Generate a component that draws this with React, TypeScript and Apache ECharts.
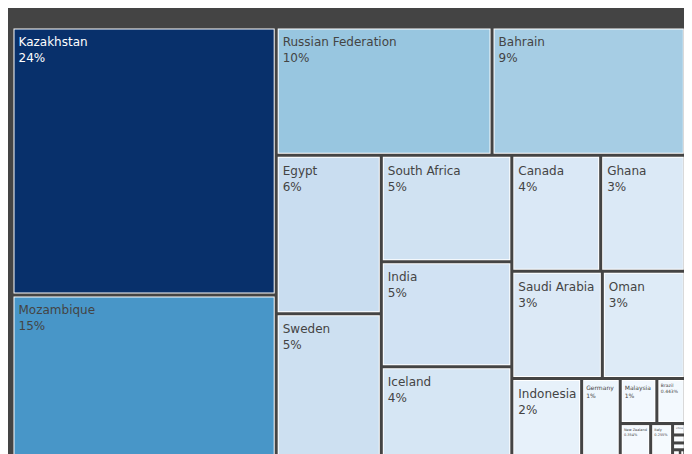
import React, { useEffect, useRef } from "react";
import * as echarts from "echarts";

const countries = [
  "Kazakhstan", "Mozambique", "Russian Federation", "Bahrain", "Egypt", "Sweden",
  "South Africa", "India", "Iceland", "Canada", "Ghana", "Saudi Arabia", "Oman",
  "Indonesia", "Germany", "Malaysia", "Brazil", "New Zealand", "Italy",
  "China", "Spain", "Norway", "France", "Qatar",
];
const shares = [
  24.44, 14.8, 9.55, 8.55, 5.75, 5.21,
  4.8, 4.73, 4.08, 3.56, 3.39, 3.35, 3.07,
  1.9, 1.05, 0.57, 0.443, 0.354, 0.255,
  0.05, 0.035, 0.03, 0.02, 0.013,
];
const blues = ["#f7fbff", "#deebf7", "#c6dbef", "#9ecae1", "#6baed6", "#4292c6", "#2171b5", "#08519c", "#08306b"];

function fmtPct(r: number): string {
  const s = Math.round(100 * r).toFixed(0) + "%";
  if (s === "0%") {
    let v = (r * 100).toPrecision(3);
    if (v.indexOf(".") !== -1) v = v.replace(/[.]?0+$/, "");
    return v + "%";
  }
  return s;
}

function fontFor(v: number): number {
  if (v >= 1.5) return 12;
  if (v >= 0.5) return 6;
  if (v >= 0.4) return 4.5;
  if (v >= 0.2) return 3.5;
  return 2.5;
}

export default function App() {
  const ref = useRef<HTMLDivElement>(null);
  useEffect(() => {
    if (!ref.current) return;
    const chart = echarts.init(ref.current, undefined, { renderer: "svg" });
    const total = shares.reduce((a, b) => a + b, 0);
    const max = Math.max(...shares);
    const data = countries.map((name, i) => {
      const v = shares[i];
      const col = echarts.color.lerp(v / max, blues) as string;
      const rgb = echarts.color.parse(col) as number[];
      const bright = (rgb[0] * 299 + rgb[1] * 587 + rgb[2] * 114) / 1000;
      const fs = fontFor(v);
      const k = fs / 12;
      return {
        name,
        value: v,
        itemStyle: { color: col },
        label: {
          fontSize: fs,
          lineHeight: fs * 1.33,
          color: bright >= 128 ? "#444" : "#fff",
          padding: [5 * k, 4 * k],
        },
      };
    });
    chart.setOption({
      animation: false,
      backgroundColor: "#444",
      series: [
        {
          type: "treemap",
          left: 5.5,
          top: 20.5,
          width: 670.3,
          height: 427.3,
          squareRatio: 1,
          roam: false,
          nodeClick: false,
          visibleMin: 0,
          breadcrumb: { show: false },
          emphasis: { disabled: true },
          label: {
            show: true,
            position: "insideTopLeft",
            distance: 0,
            overflow: "none",
            fontFamily: "DejaVu Sans",
            formatter: (p: any) => `${p.name}\n${fmtPct(p.value / total)}`,
          },
          levels: [
            { itemStyle: { borderWidth: 0, gapWidth: 3, borderColor: "#444" } },
            { itemStyle: { borderWidth: 1, borderColor: "#fff", gapWidth: 0 } },
          ],
          data,
        },
      ],
    });
    return () => chart.dispose();
  }, []);
  return <div ref={ref} style={{ width: 680, height: 460 }} />;
}
